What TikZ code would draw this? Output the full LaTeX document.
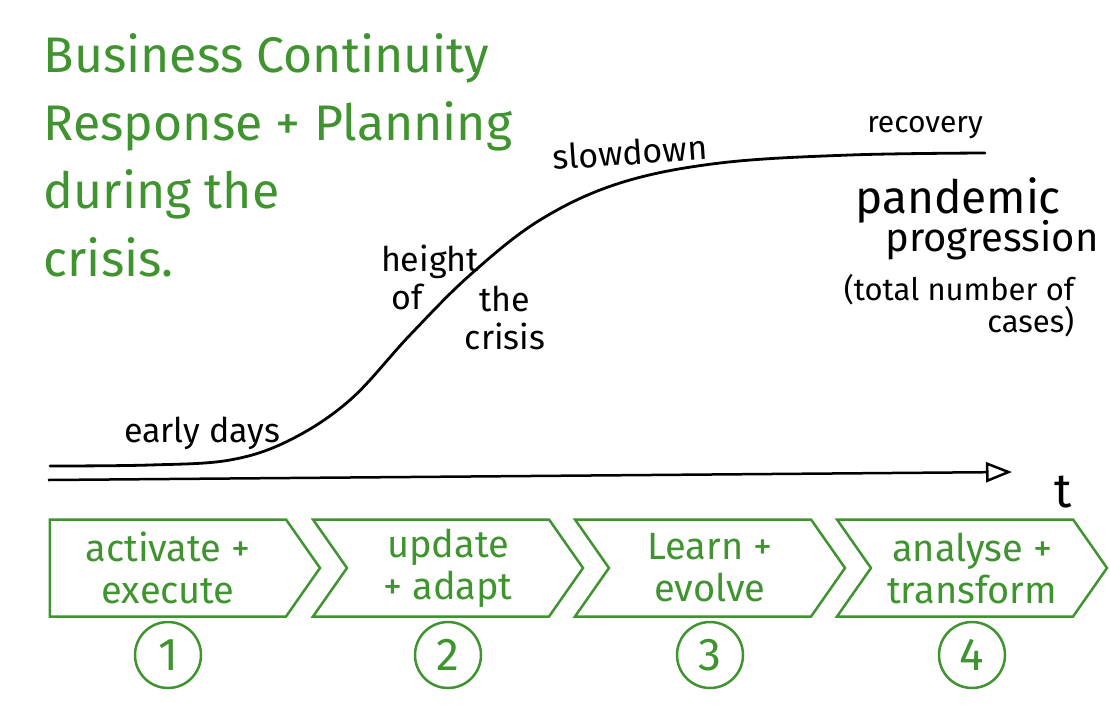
\documentclass[tikz,border=0pt]{standalone}
\usepackage{fontspec}
\setmainfont{Fira Sans}
\usetikzlibrary{positioning,shapes.symbols,arrows.meta}
\definecolor{penGreen}{RGB}{64,148,48}

\begin{document}
\begin{tikzpicture}[x=1pt,y=-1pt,thick,node distance=262pt,
	stage/.style={signal,draw=penGreen,line width=2.5pt,signal to=east,signal from=west,
		signal pointer angle=110,minimum width=270pt,minimum height=97pt,inner sep=2pt,
		text=penGreen,align=center,font=\fontsize{38}{42}\selectfont},
	num/.style={circle,draw=penGreen,line width=2.5pt,minimum size=66pt,inner sep=0pt,
		text=penGreen,font=\fontsize{46}{46}\selectfont},
	note/.style={font=\fontsize{34}{38}\selectfont},
	heading/.style={text=penGreen,align=left,font=\fontsize{50}{68}\selectfont}]
	\useasboundingbox (0,0) rectangle (1110,707);

	\node[heading,anchor=north west] (title) at (40,30)
		{Business Continuity\\Response + Planning\\during the\\crisis.};

	% pandemic curve
	\draw[line width=2.8pt,line cap=round] plot[smooth,tension=0.6] coordinates
		{(50,466) (150,465) (230,460) (290,440) (350,400) (410,335) (470,275)
		 (540,220) (620,183) (720,163) (850,155) (985,153)};

	\node[note] (early) at (202,433) {early days};
	\node[note] (height) at (430,262) {height};
	\node[note] (of) at (407,297) {of};
	\node[note,align=center] (crisis) at (505,318) {the\\crisis};
	\node[note,rotate=4] (slow) at (630,152) {slowdown};
	\node[note,font=\fontsize{30}{34}\selectfont] (recovery) at (925,128) {recovery};
	\node[note,font=\fontsize{46}{46}\selectfont] (pandemic) at (958,200) {pandemic};
	\node[note,font=\fontsize{40}{40}\selectfont] (progress) at (992,240) {progression};
	\node[note,align=right,anchor=east,font=\fontsize{31}{32}\selectfont] (cases) at (1078,306)
		{(total number of\\cases)};

	% time axis
	\coordinate (origin) at (48,480);
	\coordinate (tend) at (1012,472);
	\draw[line width=2.5pt,-{Triangle[open,length=26pt,width=20pt]}] (origin) -- (tend);
	\node[font=\fontsize{48}{48}\selectfont] (t) at (1063,492) {t};

	% stages
	\node[stage,signal from=nowhere] (s1) at (168,568) {activate +\\execute};
	\node[stage] (s2) [right of=s1,xshift=18pt] {update\\+ adapt};
	\node[stage] (s3) [right of=s2] {Learn +\\evolve};
	\node[stage] (s4) [right of=s3] {analyse +\\transform};

	\node[num] (n1) [below=3pt of s1] {1};
	\node[num] (n2) [below=3pt of s2] {2};
	\node[num] (n3) [below=3pt of s3] {3};
	\node[num] (n4) [below=3pt of s4] {4};
\end{tikzpicture}
\end{document}
